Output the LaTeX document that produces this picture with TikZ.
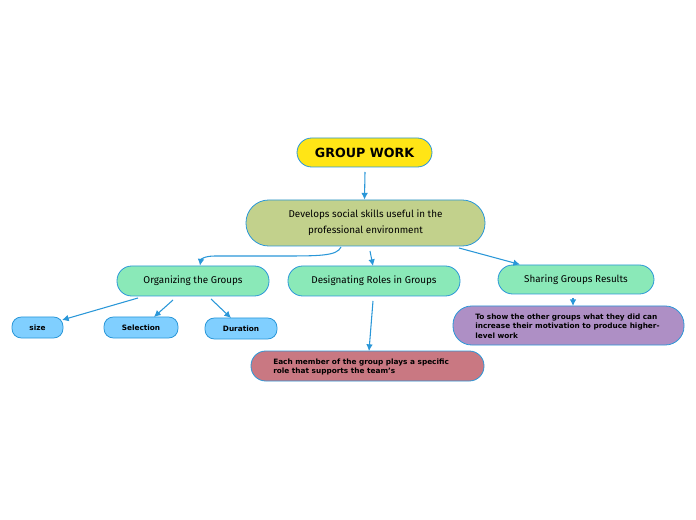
\documentclass[tikz,border=0pt]{standalone}
\usepackage{fontspec}
\setmainfont{DejaVu Sans}
\newfontfamily\hand{Fira Sans}
\usetikzlibrary{arrows.meta}
\definecolor{edge}{HTML}{2A97D8}
\definecolor{yel}{HTML}{FFE516}
\definecolor{olive}{HTML}{C2D18C}
\definecolor{mint}{HTML}{8AE9B8}
\definecolor{sky}{HTML}{80CFFF}
\definecolor{lilac}{HTML}{AE8FC5}
\definecolor{rose}{HTML}{C97882}
\tikzset{
  box/.style={draw=edge, line width=0.6pt, rounded corners=10pt, inner sep=0pt},
  link/.style={draw=edge, line width=0.8pt, -{Latex[length=5pt,width=5pt]}},
  handtxt/.style={font=\hand\fontsize{7.4}{12}\selectfont},
  leaftxt/.style={font=\bfseries\fontsize{5.5}{7.1}\selectfont},
}
\begin{document}
\begin{tikzpicture}[x=0.75pt,y=-0.75pt]
\useasboundingbox (0,0) rectangle (696,520);
% nodes
\node[box, fill=yel, minimum width=135*0.75pt, minimum height=29*0.75pt, rounded corners=11pt,
  font=\bfseries\fontsize{9.5}{11}\selectfont] (gw) at (364.5,152.5) {GROUP WORK};
\node[box, fill=olive, minimum width=239*0.75pt, minimum height=46*0.75pt, rounded corners=17pt,
  handtxt, align=center] (dev) at (365.5,223) {Develops social skills useful in the\\professional environment};
\node[box, fill=mint, minimum width=152*0.75pt, minimum height=30*0.75pt, rounded corners=11pt, handtxt] (org) at (193,281) {Organizing the Groups};
\node[box, fill=mint, minimum width=172*0.75pt, minimum height=30*0.75pt, rounded corners=11pt, handtxt] (des) at (374,281) {Designating Roles in Groups};
\node[box, fill=mint, minimum width=156*0.75pt, minimum height=29*0.75pt, rounded corners=11pt, handtxt] (sha) at (576,279.5) {Sharing Groups Results};
\node[box, fill=sky, minimum width=51*0.75pt, minimum height=21*0.75pt, rounded corners=7pt, leaftxt] (size) at (37.5,327.5) {size};
\node[box, fill=sky, minimum width=74*0.75pt, minimum height=21*0.75pt, rounded corners=7pt, leaftxt] (sel) at (141,327.5) {Selection};
\node[box, fill=sky, minimum width=72*0.75pt, minimum height=21*0.75pt, rounded corners=7pt, leaftxt] (dur) at (241,328.5) {Duration};
\node[box, fill=lilac, minimum width=231*0.75pt, minimum height=39*0.75pt, rounded corners=14pt] (pur) at (568.5,325.5) {};
\node[leaftxt, anchor=north west, align=left, inner sep=0pt] (purt) at (475,313.5) {To show the other groups what they did can\\increase their motivation to produce higher-\\level work};
\node[box, fill=rose, minimum width=233*0.75pt, minimum height=30*0.75pt, rounded corners=11pt] (red) at (367.5,366) {};
\node[leaftxt, anchor=north west, align=left, inner sep=0pt] (redt) at (273,358.5) {Each member of the group plays a specific\\role that supports the team's};
% connectors
\coordinate (gwb) at (365,172);
\coordinate (devb1) at (341,247);
\coordinate (devb2) at (370,251);
\coordinate (devb3) at (459,248);
\coordinate (orgb1) at (138,298);
\coordinate (orgb2) at (173,300);
\coordinate (orgb3) at (211,299);
\coordinate (desb) at (373,301);
\coordinate (shab) at (573,298);
\draw[link] (gwb) -- (gw.south |- dev.north);
\draw[link] (devb1) .. controls (337,256) and (320,256) .. (280,256) -- (215,256) .. controls (205,256) and (201,259) .. (org.north -| 200,0);
\draw[link] (devb2) -- (373,266);
\draw[link] (devb3) -- (520,264.5);
\draw[link] (orgb1) -- (62,320);
\draw[link] (orgb2) -- (154,317);
\draw[link] (orgb3) -- (231,318);
\draw[link] (desb) -- (369,351);
\draw[link] (shab) -- (573,306);
\end{tikzpicture}
\end{document}
